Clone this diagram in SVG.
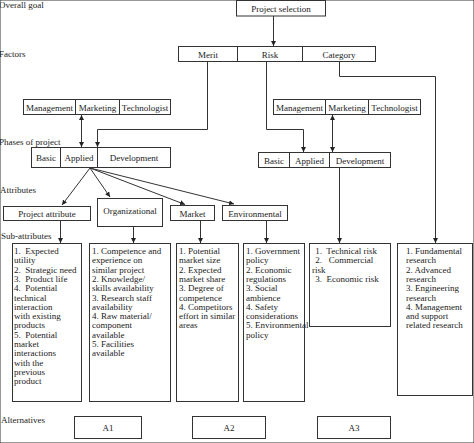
<svg xmlns="http://www.w3.org/2000/svg" width="474" height="443" viewBox="0 0 474 443">
<defs>
<marker id="ah" viewBox="0 0 10 10" refX="10" refY="5" markerWidth="5" markerHeight="5" orient="auto-start-reverse" markerUnits="userSpaceOnUse">
<path d="M0,0 L10,5 L0,10 z" fill="#222"/>
</marker>
<style>
text{font-family:"Liberation Serif","Times New Roman",serif;font-size:9px;fill:#222;}
.c{text-anchor:middle;}
.pre{white-space:pre;}
rect,line.d{fill:#fff;stroke:#333;stroke-width:1;}
.d{stroke:#333;stroke-width:1;}
.con path,.con line{fill:none;stroke:#333;stroke-width:1;}
.lab{font-size:9px;}
</style>
</defs>
<rect x="0" y="0" width="474" height="443" fill="#fff" stroke="none"/>

<g id="levels">
<text class="lab" x="-1" y="8">Overall goal</text>
<text class="lab" x="-1" y="57">Factors</text>
<text class="lab" x="-1" y="145">Phases of project</text>
<text class="lab" x="0" y="193">Attributes</text>
<text class="lab" x="1" y="239">Sub-attributes</text>
<text class="lab" x="1" y="423">Alternatives</text>
</g>

<g id="project-selection">
<rect x="236.5" y="0.5" width="89" height="15.5"/>
<text class="c" x="281" y="12">Project selection</text>
</g>

<g id="factors">
<rect x="178.5" y="46.5" width="197" height="15"/>
<line class="d" x1="237.5" y1="46.5" x2="237.5" y2="61.5"/>
<line class="d" x1="302.5" y1="46.5" x2="302.5" y2="61.5"/>
<text class="c" x="208" y="57.5">Merit</text>
<text class="c" x="270" y="57.5">Risk</text>
<text class="c" x="339" y="57.5">Category</text>
</g>

<g id="roles-left">
<rect x="23.5" y="99.5" width="147" height="15"/>
<line class="d" x1="75.5" y1="99.5" x2="75.5" y2="114.5"/>
<line class="d" x1="119.5" y1="99.5" x2="119.5" y2="114.5"/>
<text class="c" x="49.5" y="110.5">Management</text>
<text class="c" x="97.5" y="110.5">Marketing</text>
<text class="c" x="145" y="110.5">Technologist</text>
</g>

<g id="roles-right">
<rect x="273.5" y="99.5" width="147" height="15"/>
<line class="d" x1="325.5" y1="99.5" x2="325.5" y2="114.5"/>
<line class="d" x1="368.5" y1="99.5" x2="368.5" y2="114.5"/>
<text class="c" x="299.5" y="110.5">Management</text>
<text class="c" x="347" y="110.5">Marketing</text>
<text class="c" x="394.5" y="110.5">Technologist</text>
</g>

<g id="phases-left">
<rect x="31.5" y="147.5" width="139" height="20"/>
<line class="d" x1="60.5" y1="147.5" x2="60.5" y2="167.5"/>
<line class="d" x1="97.5" y1="147.5" x2="97.5" y2="167.5"/>
<text class="c" x="46" y="160.5">Basic</text>
<text class="c" x="79" y="160.5">Applied</text>
<text class="c" x="134" y="160.5">Development</text>
</g>

<g id="phases-right">
<rect x="258.5" y="152.5" width="132" height="15"/>
<line class="d" x1="289.5" y1="152.5" x2="289.5" y2="167.5"/>
<line class="d" x1="329.5" y1="152.5" x2="329.5" y2="167.5"/>
<text class="c" x="274" y="163.5">Basic</text>
<text class="c" x="309.5" y="163.5">Applied</text>
<text class="c" x="360" y="163.5">Development</text>
</g>

<g id="attr-project">
<rect x="3.5" y="206.5" width="87" height="14"/>
<text class="c" x="47" y="216.5">Project attribute</text>
</g>
<g id="attr-organizational">
<rect x="97.5" y="198.5" width="65" height="28"/>
<text class="c" x="130" y="214">Organizational</text>
</g>
<g id="attr-market">
<rect x="170.5" y="205.5" width="44" height="15"/>
<text class="c" x="192.5" y="216.5">Market</text>
</g>
<g id="attr-environmental">
<rect x="222.5" y="205.5" width="65" height="15"/>
<text class="c" x="255" y="216.5">Environmental</text>
</g>

<g id="sub-project">
<rect x="12.5" y="243.5" width="69" height="158"/>
<text class="pre" x="14" y="254">1.  Expected</text>
<text x="14" y="263.3">utility</text>
<text class="pre" x="14" y="272.6">2.  Strategic need</text>
<text class="pre" x="14" y="281.9">3.  Product life</text>
<text class="pre" x="14" y="291.2">4.  Potential</text>
<text x="14" y="300.5">technical</text>
<text x="14" y="309.8">interaction</text>
<text x="14" y="319.1">with existing</text>
<text x="14" y="328.4">products</text>
<text class="pre" x="14" y="337.7">5.  Potential</text>
<text x="14" y="347">market</text>
<text x="14" y="356.3">interactions</text>
<text x="14" y="365.6">with the</text>
<text x="14" y="374.9">previous</text>
<text x="14" y="384.2">product</text>
</g>

<g id="sub-organizational">
<rect x="89.5" y="243.5" width="81" height="158"/>
<text x="92" y="254">1. Competence and</text>
<text x="92" y="263.3">experience on</text>
<text x="92" y="272.6">similar project</text>
<text x="92" y="281.9">2. Knowledge/</text>
<text x="92" y="291.2">skills availability</text>
<text x="92" y="300.5">3. Research staff</text>
<text x="92" y="309.8">availability</text>
<text x="92" y="319.1">4. Raw material/</text>
<text x="92" y="328.4">component</text>
<text x="92" y="337.7">available</text>
<text x="92" y="347">5. Facilities</text>
<text x="92" y="356.3">available</text>
</g>

<g id="sub-market">
<rect x="176.5" y="243.5" width="62" height="158"/>
<text x="179" y="254">1. Potential</text>
<text x="179" y="263.3">market size</text>
<text x="179" y="272.6">2. Expected</text>
<text x="179" y="281.9">market share</text>
<text x="179" y="291.2">3. Degree of</text>
<text x="179" y="300.5">competence</text>
<text x="179" y="309.8">4. Competitors</text>
<text x="179" y="319.1">effort in similar</text>
<text x="179" y="328.4">areas</text>
</g>

<g id="sub-environmental">
<rect x="243.5" y="243.5" width="61" height="158"/>
<text x="246" y="254">1. Government</text>
<text x="246" y="263.3">policy</text>
<text x="246" y="272.6">2. Economic</text>
<text x="246" y="281.9">regulations</text>
<text x="246" y="291.2">3. Social</text>
<text x="246" y="300.5">ambience</text>
<text x="246" y="309.8">4. Safety</text>
<text x="246" y="319.1">considerations</text>
<text x="246" y="328.4">5. Environmental</text>
<text x="246" y="337.7">policy</text>
</g>

<g id="sub-risk">
<rect x="309.5" y="243.5" width="81" height="83"/>
<text class="pre" x="313" y="254"> 1.  Technical risk</text>
<text class="pre" x="313" y="263.3"> 2.   Commercial</text>
<text x="312" y="272.6">risk</text>
<text class="pre" x="313" y="281.9"> 3.  Economic risk</text>
</g>

<g id="sub-category">
<rect x="397.5" y="243.5" width="75" height="152"/>
<text x="406" y="254">1. Fundamental</text>
<text x="406" y="263.3">research</text>
<text x="406" y="272.6">2. Advanced</text>
<text x="406" y="281.9">research</text>
<text x="406" y="291.2">3. Engineering</text>
<text x="406" y="300.5">research</text>
<text x="406" y="309.8">4. Management</text>
<text x="406" y="319.1">and support</text>
<text x="406" y="328.4">related research</text>
</g>

<g id="alt-a1">
<rect x="74.5" y="416.5" width="67" height="22"/>
<text class="c" x="108" y="431">A1</text>
</g>
<g id="alt-a2">
<rect x="192.5" y="416.5" width="73" height="22"/>
<text class="c" x="229" y="431">A2</text>
</g>
<g id="alt-a3">
<rect x="317.5" y="416.5" width="73" height="22"/>
<text class="c" x="354" y="431">A3</text>
</g>

<g id="connectors" class="con">
<line x1="273.5" y1="16" x2="273.5" y2="46" marker-end="url(#ah)"/>
<path d="M207.5,61.5 V129.5 H97.5 V147" marker-end="url(#ah)"/>
<path d="M266.5,61.5 V129.5 H303.5 V152" marker-end="url(#ah)"/>
<path d="M339.5,61.5 V76.5 H435.5 V243" marker-end="url(#ah)"/>
<line x1="81.5" y1="115" x2="81.5" y2="147" marker-start="url(#ah)" marker-end="url(#ah)"/>
<line x1="332.5" y1="115" x2="332.5" y2="152" marker-start="url(#ah)" marker-end="url(#ah)"/>
<line x1="339.5" y1="167.5" x2="339.5" y2="243" marker-end="url(#ah)"/>
<line x1="90" y1="168" x2="62" y2="205" marker-end="url(#ah)"/>
<line x1="90" y1="168" x2="110" y2="197" marker-end="url(#ah)"/>
<line x1="90" y1="168" x2="185" y2="204.5" marker-end="url(#ah)"/>
<line x1="90" y1="168" x2="234" y2="204" marker-end="url(#ah)"/>
<line x1="60.5" y1="220.5" x2="60.5" y2="243" marker-end="url(#ah)"/>
<line x1="133.5" y1="226.5" x2="133.5" y2="243" marker-end="url(#ah)"/>
<line x1="200.5" y1="220.5" x2="200.5" y2="243" marker-end="url(#ah)"/>
<line x1="266.5" y1="220.5" x2="266.5" y2="243" marker-end="url(#ah)"/>
</g>
</svg>
